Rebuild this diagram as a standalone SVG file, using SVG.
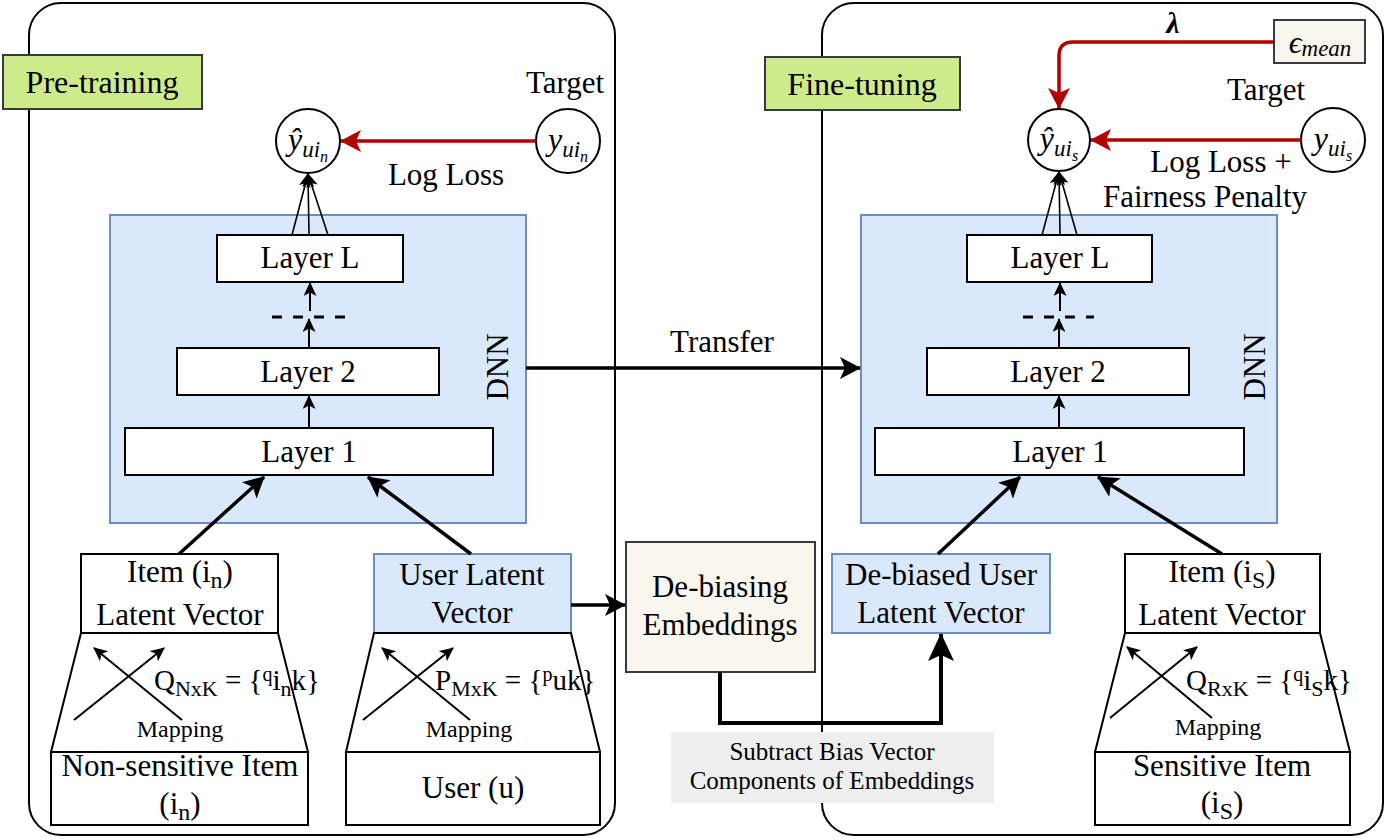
<svg xmlns="http://www.w3.org/2000/svg" width="1387" height="839" viewBox="0 0 1387 839">
<style>
text{font-family:"Liberation Serif","Times New Roman",serif;fill:#000;}
.t{font-size:31px;text-anchor:middle;}
.s{font-size:25px;text-anchor:middle;}
.m{font-size:24px;text-anchor:middle;}
.q{font-size:29px;}
.it{font-style:italic;}
.panel{fill:#fff;stroke:#000;stroke-width:2;}
.box{fill:#fff;stroke:#000;stroke-width:2;}
.blue{fill:#dae8fc;stroke:#6c8ebf;stroke-width:2;}
.green{fill:#cdeb8b;stroke:#36393d;stroke-width:2;}
.beige{fill:#f9f7ed;stroke:#36393d;stroke-width:2;}
.gray{fill:#eeeeee;stroke:none;}
.circ{fill:#fff;stroke:#000;stroke-width:2;}
.thick{fill:none;stroke:#000;stroke-width:3.5;marker-end:url(#ak);}
.thin{fill:none;stroke:#000;stroke-width:2;marker-end:url(#at);}
.fan{fill:none;stroke:#000;stroke-width:1.6;marker-end:url(#af);}
.red{fill:none;stroke:#b20000;stroke-width:3.5;marker-end:url(#ar);}
.dash{fill:none;stroke:#000;stroke-width:3;stroke-dasharray:10 11;}
</style>
<defs>
<marker id="ak" markerUnits="userSpaceOnUse" markerWidth="24" markerHeight="24" refX="20" refY="11" orient="auto"><path d="M0,0 L21,11 L0,22 L5,11 z" fill="#000"/></marker>
<marker id="ab" markerUnits="userSpaceOnUse" markerWidth="30" markerHeight="30" refX="27" refY="13" orient="auto"><path d="M0,0 L28,13 L0,26 L6,13 z" fill="#000"/></marker>
<marker id="ar" markerUnits="userSpaceOnUse" markerWidth="24" markerHeight="24" refX="20" refY="11" orient="auto"><path d="M0,0 L21,11 L0,22 L5,11 z" fill="#b20000"/></marker>
<marker id="at" markerUnits="userSpaceOnUse" markerWidth="16" markerHeight="14" refX="13" refY="6.5" orient="auto"><path d="M0,0 L14,6.5 L0,13 L3.5,6.5 z" fill="#000"/></marker>
<marker id="af" markerUnits="userSpaceOnUse" markerWidth="16" markerHeight="14" refX="13" refY="6" orient="auto"><path d="M0,0 L14,6 L0,12 L3.5,6 z" fill="#000"/></marker>
</defs>

<g id="pretraining-panel">
<rect class="panel" x="29" y="3" width="586" height="832" rx="32"/>
</g>
<g id="finetuning-panel">
<rect class="panel" x="822" y="3" width="561" height="832" rx="32"/>
</g>

<g id="pretraining-label">
<rect class="green" x="3" y="55" width="199" height="54"/>
<text class="t" x="102" y="93" style="font-size:32px">Pre-training</text>
</g>
<g id="finetuning-label">
<rect class="green" x="765" y="57" width="195" height="53"/>
<text class="t" x="862" y="95" style="font-size:32px">Fine-tuning</text>
</g>

<g id="dnn-left">
<rect class="blue" x="110" y="215" width="416" height="308"/>
<text class="t" transform="translate(508,367) rotate(-90)" x="0" y="0">DNN</text>
</g>
<g id="layerL-left"><rect class="box" x="217" y="235" width="186" height="47"/><text class="t" x="310" y="268">Layer L</text></g>
<g id="layer2-left"><rect class="box" x="177" y="348" width="262" height="47"/><text class="t" x="308" y="382">Layer 2</text></g>
<g id="layer1-left"><rect class="box" x="125" y="428" width="368" height="47"/><text class="t" x="309" y="462">Layer 1</text></g>

<g id="dnn-right">
<rect class="blue" x="861" y="215" width="416" height="308"/>
<text class="t" transform="translate(1265,367) rotate(-90)" x="0" y="0">DNN</text>
</g>
<g id="layerL-right"><rect class="box" x="967" y="235" width="185" height="47"/><text class="t" x="1060" y="268">Layer L</text></g>
<g id="layer2-right"><rect class="box" x="927" y="348" width="262" height="47"/><text class="t" x="1058" y="382">Layer 2</text></g>
<g id="layer1-right"><rect class="box" x="875" y="428" width="369" height="47"/><text class="t" x="1060" y="462">Layer 1</text></g>

<g id="yhat-left">
<circle class="circ" cx="308" cy="141" r="32"/>
<text x="308" y="150" text-anchor="middle" class="it"><tspan font-size="32">ŷ</tspan><tspan font-size="23" dy="7">ui</tspan><tspan font-size="16" dy="5">n</tspan></text>
</g>
<g id="target-left">
<circle class="circ" cx="568" cy="141" r="32"/>
<text x="568" y="150" text-anchor="middle" class="it"><tspan font-size="32">y</tspan><tspan font-size="23" dy="7">ui</tspan><tspan font-size="16" dy="5">n</tspan></text>
</g>
<g id="yhat-right">
<circle class="circ" cx="1059" cy="140" r="31"/>
<text x="1059" y="149" text-anchor="middle" class="it"><tspan font-size="32">ŷ</tspan><tspan font-size="23" dy="7">ui</tspan><tspan font-size="16" dy="5">s</tspan></text>
</g>
<g id="target-right">
<circle class="circ" cx="1333" cy="140" r="32"/>
<text x="1333" y="149" text-anchor="middle" class="it"><tspan font-size="32">y</tspan><tspan font-size="23" dy="7">ui</tspan><tspan font-size="16" dy="5">s</tspan></text>
</g>
<g id="epsilon-mean">
<rect class="beige" x="1274" y="20" width="91" height="43"/>
<text x="1320" y="53" text-anchor="middle" class="it"><tspan font-size="32">ϵ</tspan><tspan font-size="23" dy="3">mean</tspan></text>
</g>

<g id="item-n">
<rect class="box" x="81" y="554" width="197" height="79"/>
<text class="t" x="180" y="582">Item (i<tspan font-size="24" dy="6">n</tspan><tspan dy="-6">)</tspan></text>
<text class="t" x="180" y="625">Latent Vector</text>
<polygon class="box" points="81,633 278,633 308,752 51,752"/>
<text class="q" x="154" y="690">Q<tspan font-size="22" dy="6">NxK</tspan><tspan dy="-6"> = {</tspan><tspan font-size="20" dy="-9">q</tspan><tspan dy="9">i</tspan><tspan font-size="22" dy="6">n</tspan><tspan dy="-6">k}</tspan></text>
<text class="m" x="180" y="737">Mapping</text>
<rect class="box" x="51" y="752" width="257" height="73"/>
<text class="t" x="180" y="776">Non-sensitive Item</text>
<text class="t" x="180" y="814">(i<tspan font-size="24" dy="6">n</tspan><tspan dy="-6">)</tspan></text>
</g>

<g id="user">
<rect class="blue" x="374" y="554" width="197" height="79"/>
<text class="t" x="472" y="585">User Latent</text>
<text class="t" x="472" y="623">Vector</text>
<polygon class="box" points="374,633 571,633 600,752 346,752"/>
<text class="q" x="435" y="690">P<tspan font-size="22" dy="6">MxK</tspan><tspan dy="-6"> = {</tspan><tspan font-size="20" dy="-9">p</tspan><tspan dy="9">uk}</tspan></text>
<text class="m" x="469" y="737">Mapping</text>
<rect class="box" x="346" y="752" width="254" height="73"/>
<text class="t" x="473" y="798">User (u)</text>
</g>

<g id="item-s">
<rect class="box" x="1125" y="554" width="195" height="79"/>
<text class="t" x="1222" y="582">Item (i<tspan font-size="24" dy="6">S</tspan><tspan dy="-6">)</tspan></text>
<text class="t" x="1222" y="625">Latent Vector</text>
<polygon class="box" points="1125,633 1320,633 1350,752 1095,752"/>
<text class="q" x="1186" y="690">Q<tspan font-size="22" dy="6">RxK</tspan><tspan dy="-6"> = {</tspan><tspan font-size="20" dy="-9">q</tspan><tspan dy="9">i</tspan><tspan font-size="22" dy="6">S</tspan><tspan dy="-6">k}</tspan></text>
<text class="m" x="1218" y="735">Mapping</text>
<rect class="box" x="1095" y="752" width="255" height="73"/>
<text class="t" x="1222" y="776">Sensitive Item</text>
<text class="t" x="1222" y="813">(i<tspan font-size="24" dy="6">S</tspan><tspan dy="-6">)</tspan></text>
</g>

<g id="debiasing">
<rect class="beige" x="626" y="542" width="189" height="130"/>
<text class="t" x="720" y="597">De-biasing</text>
<text class="t" x="720" y="635">Embeddings</text>
</g>
<g id="debiased-user">
<rect class="blue" x="832" y="554" width="218" height="79"/>
<text class="t" x="941" y="585">De-biased User</text>
<text class="t" x="941" y="623">Latent Vector</text>
</g>

<g id="connectors">
<path class="thick" d="M526,368 H860"/>
<path class="thick" d="M179,554 L264,477"/>
<path class="thick" d="M471,554 L368,477"/>
<path class="thick" d="M938,554 L1020,477"/>
<path class="thick" d="M1222,554 L1098,477"/>
<path class="thick" d="M571,605 H625"/>
<path d="M720,672 V723 H941 V634" fill="none" stroke="#000" stroke-width="4" marker-end="url(#ab)"/>
<path class="thin" d="M309,428 V396"/>
<path class="thin" d="M309,348 V319"/>
<path class="thin" d="M310,311 V283"/>
<path class="dash" d="M272,317 H345"/>
<path class="thin" d="M1059,428 V396"/>
<path class="thin" d="M1059,348 V319"/>
<path class="thin" d="M1060,311 V283"/>
<path class="dash" d="M1023,317 H1094"/>
<path class="fan" d="M292,235 L308,174"/>
<path class="fan" d="M309,235 L308,174"/>
<path class="fan" d="M328,235 L308,174"/>
<path class="fan" d="M1042,235 L1059,172"/>
<path class="fan" d="M1060,235 L1059,172"/>
<path class="fan" d="M1077,235 L1059,172"/>
<path class="red" d="M536,141 H341"/>
<path class="red" d="M1301,140 H1091"/>
<path class="red" d="M1274,42 H1073 Q1059,42 1059,56 V108"/>
<path class="thin" d="M74,720 L164,648"/>
<path class="thin" d="M182,720 L94,648"/>
<path class="thin" d="M363,720 L453,648"/>
<path class="thin" d="M470,720 L382,648"/>
<path class="thin" d="M1110,718 L1197,647"/>
<path class="thin" d="M1212,718 L1127,647"/>
</g>

<g id="subtract-label">
<rect class="gray" x="671" y="732" width="323" height="71"/>
<text class="s" x="832" y="760">Subtract Bias Vector</text>
<text class="s" x="832" y="789">Components of Embeddings</text>
</g>

<g id="edge-labels">
<text class="t" x="565" y="93">Target</text>
<text class="t" x="446" y="185">Log Loss</text>
<text class="t" x="1266" y="100">Target</text>
<text class="t" x="1221" y="172">Log Loss +</text>
<text class="t" x="1205" y="207">Fairness Penalty</text>
<text class="t" x="722" y="352">Transfer</text>
<text x="1173" y="33" text-anchor="middle" class="it" font-size="30" font-weight="bold">λ</text>
</g>
</svg>
